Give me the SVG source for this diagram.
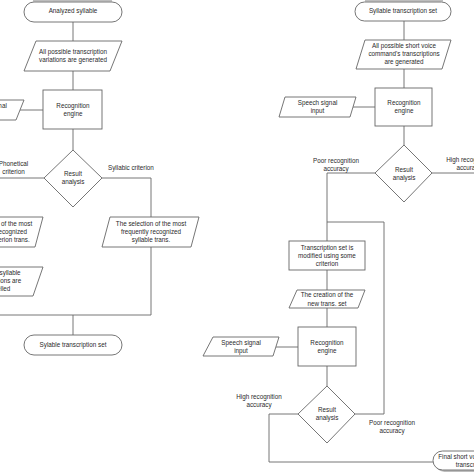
<svg xmlns="http://www.w3.org/2000/svg" width="474" height="474" viewBox="0 0 474 474">
<style>
.s{fill:#fff;stroke:#666;stroke-width:0.9}
.c{fill:none;stroke:#666;stroke-width:0.9}
text{font-family:"Liberation Sans",Arial,sans-serif;font-size:6.3px;fill:#2a2a2a;text-anchor:middle}
.l{text-anchor:start}
.sh{fill:#bdbdbd}
</style>
<rect width="474" height="474" fill="#fff"/>
<rect class="sh" x="33" y="0" width="79" height="1.6"/>
<rect class="sh" x="365" y="0" width="78" height="1.6"/>

<g id="connectors">
<line class="c" x1="73" y1="22" x2="73" y2="41"/>
<line class="c" x1="73" y1="71" x2="73" y2="90"/>
<line class="c" x1="20" y1="110" x2="43" y2="110"/>
<line class="c" x1="73" y1="129" x2="73" y2="150"/>
<line class="c" x1="44" y1="178" x2="0" y2="178"/>
<polyline class="c" points="102,178 151,178 151,217"/>
<line class="c" x1="151" y1="247" x2="151" y2="315"/>
<line class="c" x1="0" y1="315" x2="151" y2="315"/>
<line class="c" x1="73" y1="315" x2="73" y2="335"/>

<line class="c" x1="404" y1="21" x2="404" y2="40"/>
<line class="c" x1="404" y1="69" x2="404" y2="88"/>
<line class="c" x1="353" y1="107" x2="375" y2="107"/>
<line class="c" x1="404" y1="126" x2="404" y2="145"/>
<polyline class="c" points="375,173 327,173 327,241"/>
<line class="c" x1="432" y1="173" x2="474" y2="173"/>
<polyline class="c" points="327,222 384,222 384,414 355,414"/>
<line class="c" x1="327" y1="270" x2="327" y2="290"/>
<line class="c" x1="327" y1="308" x2="327" y2="327"/>
<line class="c" x1="276" y1="347" x2="298" y2="347"/>
<line class="c" x1="327" y1="366" x2="327" y2="386"/>
<polyline class="c" points="298,414 269,414 269,462 433,462"/>
</g>

<g id="n-analyzed">
<rect class="s" x="24" y="2" width="98" height="20" rx="10"/>
<text x="73" y="13.3">Analyzed syllable</text>
</g>
<g id="n-allpossible">
<polygon class="s" points="36,41 122,41 110,71 24,71"/>
<text x="73" y="54">All possible transcription</text>
<text x="73" y="62">variations are generated</text>
</g>
<g id="n-speech1">
<polygon class="s" points="-40,100 24,100 16,120 -48,120"/>
<text x="-13" y="108">Speech signal</text>
<text x="-13" y="116">input</text>
</g>
<g id="n-engine1">
<rect class="s" x="43" y="90" width="59" height="39"/>
<text x="73" y="108">Recognition</text>
<text x="73" y="116">engine</text>
</g>
<g id="n-result1">
<polygon class="s" points="73,150 102,178 73,207 44,178"/>
<text x="73" y="176">Result</text>
<text x="73" y="184">analysis</text>
</g>
<g id="l-phon">
<text x="13.5" y="166">Phonetical</text>
<text x="13.5" y="174">criterion</text>
</g>
<g id="l-syl">
<text class="l" x="108" y="170">Syllabic criterion</text>
</g>
<g id="n-selphon">
<polygon class="s" points="-39,217 43,217 35,247 -47,247"/>
<text x="-3" y="226">The selection of the most</text>
<text x="-3" y="234">frequently recognized</text>
<text x="-3" y="241.5">phonetic criterion trans.</text>
</g>
<g id="n-selsyl">
<polygon class="s" points="110,217 199,217 191,247 102,247"/>
<text x="151" y="226">The selection of the most</text>
<text x="151" y="234">frequently recognized</text>
<text x="151" y="241.5">syllable trans.</text>
</g>
<g id="n-newsyl">
<polygon class="s" points="-45,267 43,267 33,296 -55,296"/>
<text x="-3" y="275">Incorrect syllable</text>
<text x="-3" y="283">transcriptions are</text>
<text x="-3" y="291">cancelled</text>
</g>
<g id="n-sylset">
<rect class="s" x="24" y="335" width="98" height="20" rx="10"/>
<text x="73" y="347.3">Sylable transcription set</text>
</g>

<g id="n-sylset2">
<rect class="s" x="355" y="2" width="96" height="19" rx="9.5"/>
<text x="403" y="13">Syllable transcription set</text>
</g>
<g id="n-allshort">
<polygon class="s" points="365,40 451,40 442,69 356,69"/>
<text x="404" y="48">All possible short voice</text>
<text x="404" y="56">command's transcriptions</text>
<text x="404" y="64">are generated</text>
</g>
<g id="n-speech2">
<polygon class="s" points="285,97 356,97 350,117 279,117"/>
<text x="317.5" y="105">Speech signal</text>
<text x="317.5" y="113">input</text>
</g>
<g id="n-engine2">
<rect class="s" x="375" y="88" width="57" height="38"/>
<text x="404" y="105">Recognition</text>
<text x="404" y="113">engine</text>
</g>
<g id="n-result2">
<polygon class="s" points="404,145 432,173 404,202 375,173"/>
<text x="404" y="172">Result</text>
<text x="404" y="180">analysis</text>
</g>
<g id="l-poor1">
<text x="336" y="163">Poor recognition</text>
<text x="336" y="171">accuracy</text>
</g>
<g id="l-high1">
<text x="469" y="162">High recognition</text>
<text x="469" y="170">accuracy</text>
</g>
<g id="n-modified">
<rect class="s" x="289" y="241" width="76" height="29"/>
<text x="327" y="250">Transcription set is</text>
<text x="327" y="258">modified using some</text>
<text x="327" y="265.5">criterion</text>
</g>
<g id="n-creation">
<polygon class="s" points="297,290 365,290 358,308 289,308"/>
<text x="327" y="297">The creation of the</text>
<text x="327" y="305.5">new trans. set</text>
</g>
<g id="n-speech3">
<polygon class="s" points="213,337 279,337 273,356 203,356"/>
<text x="241" y="345">Speech signal</text>
<text x="241" y="353">input</text>
</g>
<g id="n-engine3">
<rect class="s" x="298" y="327" width="58" height="39"/>
<text x="327" y="345">Recognition</text>
<text x="327" y="353">engine</text>
</g>
<g id="n-result3">
<polygon class="s" points="327,386 355,414 327,443 298,414"/>
<text x="327" y="411.5">Result</text>
<text x="327" y="419.5">analysis</text>
</g>
<g id="l-high2">
<text x="259" y="399">High recognition</text>
<text x="259" y="407">accuracy</text>
</g>
<g id="l-poor2">
<text x="392" y="425">Poor recognition</text>
<text x="392" y="433">accuracy</text>
</g>
<g id="n-final">
<rect class="sh" x="435" y="453" width="92" height="19" rx="9.5"/>
<rect class="s" x="433" y="451" width="92" height="19" rx="9.5"/>
<text x="478" y="458.7">Final short voice command's</text>
<text x="478" y="466.5">transcription set</text>
</g>
</svg>
